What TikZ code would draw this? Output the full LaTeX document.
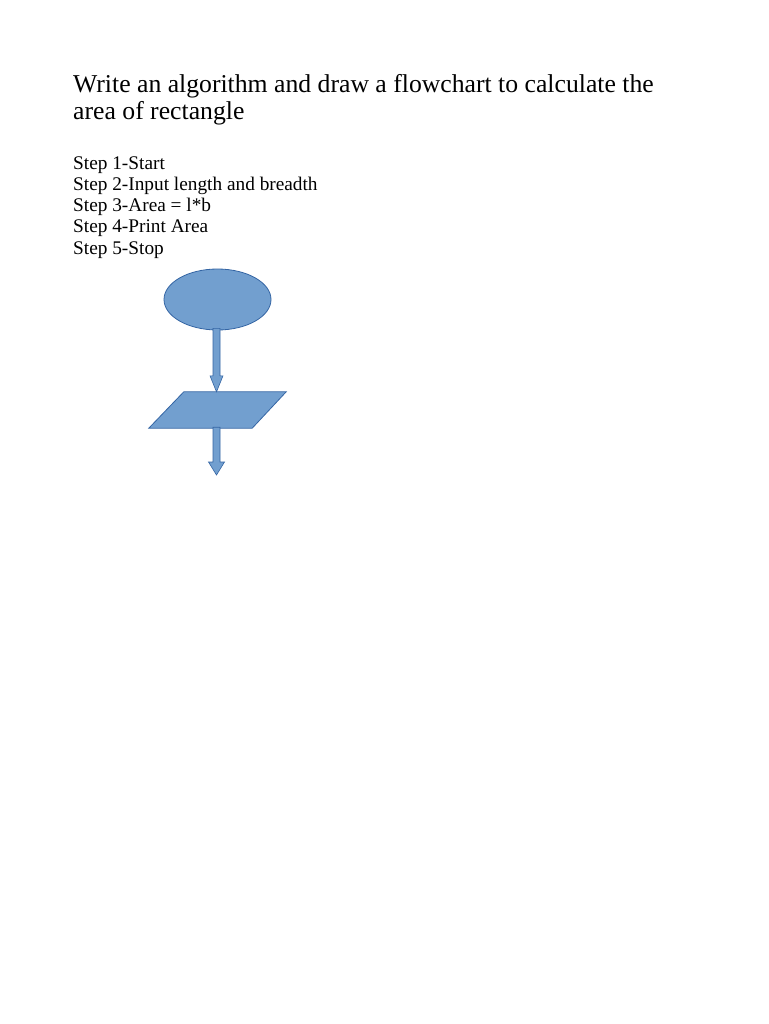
\documentclass[tikz,border=0pt]{standalone}
\usepackage{fontspec}
\setmainfont{Liberation Serif}
\usetikzlibrary{shapes.geometric,calc}
\definecolor{shapefill}{HTML}{729FCF}
\definecolor{shapeline}{HTML}{3465A4}
\tikzset{
  titletext/.style={anchor=base west,inner sep=0pt,font=\fontsize{25.7}{29}\selectfont},
  steptext/.style={anchor=base west,inner sep=0pt,font=\fontsize{19.3}{21}\selectfont},
  startshape/.style={ellipse,draw=shapeline,fill=shapefill,line width=0.8pt,minimum width=107pt,minimum height=61pt,inner sep=0pt},
  iobox/.style={rectangle,minimum width=137pt,minimum height=36pt,inner sep=0pt},
  ioshape/.style={draw=shapeline,fill=shapefill,line width=0.8pt,line join=miter},
  blockarrow/.style={draw=shapeline,fill=shapefill,line width=0.6pt,line join=miter}
}
\begin{document}
\begin{tikzpicture}[x=1pt,y=-1pt]
\useasboundingbox[fill=white] (0,0) rectangle (768,1024);
\node[titletext] (t1) at (73,93) {Write an algorithm and draw a flowchart to calculate the};
\node[titletext] (t2) at (73,120) {area of rectangle};
\node[steptext] (s1) at (73,170) {Step 1-Start};
\node[steptext] (s2) at (73,191) {Step 2-Input length and breadth};
\node[steptext] (s3) at (73,212) {Step 3-Area = l*b};
\node[steptext] (s4) at (73,233) {Step 4-Print Area};
\node[steptext] (s5) at (73,254) {Step 5-Stop};

\node[startshape] (start) at (217.5,299.5) {};
\node[iobox] (input) at (217.5,410) {};
\draw[ioshape] ($(input.north west)+(35,0)$) -- (input.north east) -- ($(input.south east)+(-34,0)$) -- (input.south west) -- cycle;
\coordinate (end) at (216.5,475);

% arrow start -> input
\draw[blockarrow] ($(start.south)+(-4.5,-2)$) -- ($(input.north)+(-4.5,-16)$) -- ($(input.north)+(-7.5,-16)$) -- ($(input.north)+(-1,0)$) -- ($(input.north)+(5.5,-16)$) -- ($(input.north)+(2.5,-16)$) -- ($(start.south)+(2.5,-2)$) -- cycle;
% arrow input -> end
\draw[blockarrow] ($(input.south)+(-4.5,-1)$) -- ($(end)+(-3.5,-13)$) -- ($(end)+(-8,-13)$) -- (end) -- ($(end)+(8,-13)$) -- ($(end)+(3.5,-13)$) -- ($(input.south)+(2.5,-1)$) -- cycle;
\end{tikzpicture}
\end{document}
